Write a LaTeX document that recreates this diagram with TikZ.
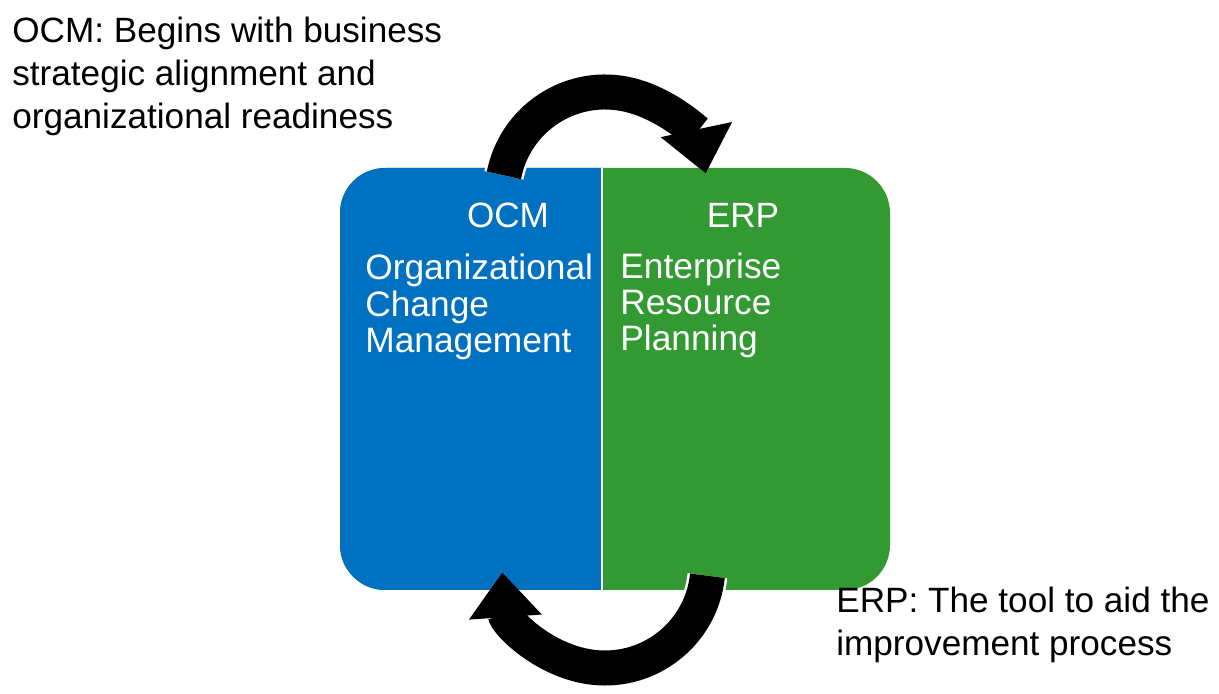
\documentclass[tikz,border=0pt]{standalone}
\usepackage{fontspec}
\setmainfont{Liberation Sans}
\usetikzlibrary{arrows.meta}
\definecolor{ocmblue}{RGB}{0,112,192}
\definecolor{erpgreen}{RGB}{51,153,51}
\tikzset{
  note/.style={align=left,font=\fontsize{20}{24.5}\selectfont,inner sep=0pt},
  boxtext/.style={align=left,text=white,font=\fontsize{20.1}{20.6}\selectfont,inner sep=0pt},
  head/.style={text=white,font=\fontsize{20}{21}\selectfont,inner sep=0pt},
  cyclearrow/.style={line width=0.7cm,-{Triangle[width=1.4cm,length=0.9cm]}},
  cycleedge/.style={white,line width=0.8cm,-{Triangle[width=1.6cm,length=1.05cm]}}
}
\begin{document}
\begin{tikzpicture}
  \useasboundingbox (0,0) rectangle (24.38,13.88);
  % boxes
  \fill[erpgreen,rounded corners=0.9cm] (6.8,2.08) rectangle (17.8,10.52);
  \begin{scope}
    \clip (6.5,1.5) rectangle (12.04,11);
    \fill[ocmblue,rounded corners=0.9cm] (6.8,2.08) rectangle (17.8,10.52);
  \end{scope}
  \draw[white,line width=1.2pt] (12.04,2.08) -- (12.04,10.52);
  % arrows
  \coordinate (topc) at (12.1,9.98);
  \coordinate (botc) at (12.1,2.58);
  \draw[cycleedge] ([shift={(169:2.06)}]topc) arc[start angle=169,end angle=12,radius=2.06];
  \draw[cyclearrow] ([shift={(169:2.06)}]topc) arc[start angle=169,end angle=12,radius=2.06];
  \draw[cycleedge] ([shift={(-6:2.06)}]botc) arc[start angle=-6,end angle=-176,radius=2.06];
  \draw[cyclearrow] ([shift={(-6:2.06)}]botc) arc[start angle=-6,end angle=-176,radius=2.06];
  % texts
  \node[head] (ocm) at (10.16,9.58) {OCM};
  \node[head] (erp) at (14.86,9.58) {ERP};
  \node[boxtext,anchor=north west] (ocmtext) at (7.3,8.8) {Organizational\\Change\\Management};
  \node[boxtext,anchor=north west] (erptext) at (12.4,8.83) {Enterprise\\Resource\\Planning};
  \node[note,anchor=north west] (ocmnote) at (0.24,13.55) {OCM: Begins with business\\strategic alignment and\\organizational readiness};
  \node[note,anchor=north west] (erpnote) at (16.72,2.15) {ERP: The tool to aid the\\improvement process};
\end{tikzpicture}
\end{document}
